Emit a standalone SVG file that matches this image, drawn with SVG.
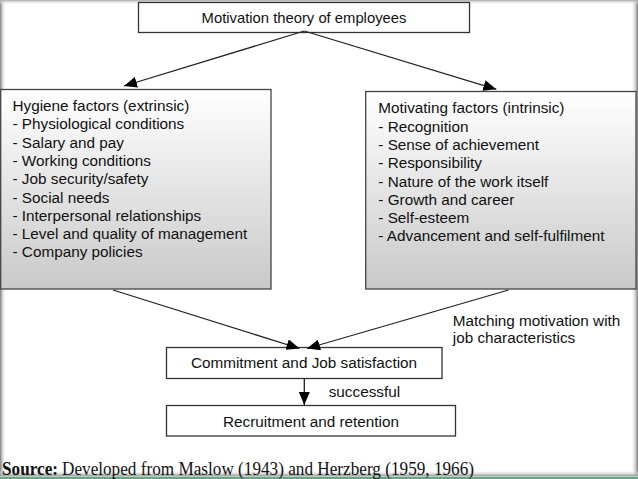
<svg xmlns="http://www.w3.org/2000/svg" width="638" height="479" viewBox="0 0 638 479">
<defs>
<linearGradient id="boxfill" x1="0" y1="0" x2="0" y2="1">
<stop offset="0" stop-color="#ffffff"/>
<stop offset="1" stop-color="#c9c9c9"/>
</linearGradient>
<linearGradient id="edgeL" x1="0" y1="0" x2="1" y2="0">
<stop offset="0" stop-color="#7a7a7a"/>
<stop offset="1" stop-color="#ffffff" stop-opacity="0"/>
</linearGradient>
<linearGradient id="edgeR" x1="1" y1="0" x2="0" y2="0">
<stop offset="0" stop-color="#7a7a7a"/>
<stop offset="1" stop-color="#ffffff" stop-opacity="0"/>
</linearGradient>
<linearGradient id="edgeT" x1="0" y1="0" x2="0" y2="1">
<stop offset="0" stop-color="#aaaaaa"/>
<stop offset="1" stop-color="#ffffff" stop-opacity="0"/>
</linearGradient>
<linearGradient id="edgeB" x1="0" y1="1" x2="0" y2="0">
<stop offset="0" stop-color="#9a9a9a"/>
<stop offset="1" stop-color="#ffffff" stop-opacity="0"/>
</linearGradient>
<marker id="arr" viewBox="0 0 13 11" refX="13" refY="5.5" markerWidth="13" markerHeight="11" markerUnits="userSpaceOnUse" orient="auto">
<path d="M0,0 L13,5.5 L0,11 z" fill="#000"/>
</marker>
<style>
.t{font-family:"Liberation Sans",Arial,sans-serif;font-size:15.3px;fill:#111}
.src{font-family:"Liberation Serif","Times New Roman",serif;font-size:19.5px;fill:#111}
.box{fill:#fff;stroke:#333;stroke-width:1.3}
.gbox{fill:url(#boxfill);stroke:#444;stroke-width:1.3}
.ln{stroke:#222;stroke-width:1.3;fill:none}
</style>
</defs>
<rect x="0" y="0" width="638" height="479" fill="#fff"/>
<rect x="0" y="0" width="6" height="476" fill="url(#edgeL)"/>
<rect x="631" y="0" width="7" height="476" fill="url(#edgeR)"/>
<rect x="0" y="0" width="638" height="5" fill="url(#edgeT)"/>
<rect x="0" y="470" width="638" height="6" fill="url(#edgeB)"/>
<rect x="0" y="476.5" width="638" height="2.5" fill="#6aa585"/>

<g id="top">
<rect class="box" x="138.5" y="2.5" width="331" height="30"/>
<text class="t" x="304" y="22.7" text-anchor="middle" style="font-size:14.8px">Motivation theory of employees</text>
</g>

<g id="hygiene">
<rect class="gbox" x="0.7" y="89.5" width="270.3" height="199.5"/>
<text class="t" x="12.5" y="111">Hygiene factors (extrinsic)</text>
<text class="t" x="12.5" y="129.3">- Physiological conditions</text>
<text class="t" x="12.5" y="147.6">- Salary and pay</text>
<text class="t" x="12.5" y="165.9">- Working conditions</text>
<text class="t" x="12.5" y="184.2">- Job security/safety</text>
<text class="t" x="12.5" y="202.5">- Social needs</text>
<text class="t" x="12.5" y="220.8">- Interpersonal relationships</text>
<text class="t" x="12.5" y="239.1">- Level and quality of management</text>
<text class="t" x="12.5" y="257.4">- Company policies</text>
</g>

<g id="motivating">
<rect class="gbox" x="365.7" y="91.5" width="270.3" height="197.5"/>
<text class="t" x="378.3" y="113.3">Motivating factors (intrinsic)</text>
<text class="t" x="378.3" y="131.6">- Recognition</text>
<text class="t" x="378.3" y="149.9">- Sense of achievement</text>
<text class="t" x="378.3" y="168.2">- Responsibility</text>
<text class="t" x="378.3" y="186.5">- Nature of the work itself</text>
<text class="t" x="378.3" y="204.8">- Growth and career</text>
<text class="t" x="378.3" y="223.1">- Self-esteem</text>
<text class="t" x="378.3" y="241.4">- Advancement and self-fulfilment</text>
</g>

<g id="commitment">
<rect class="box" x="166.5" y="347.5" width="275.5" height="31"/>
<text class="t" x="304" y="368.3" text-anchor="middle">Commitment and Job satisfaction</text>
</g>

<g id="recruitment">
<rect class="box" x="166.5" y="405.5" width="289" height="30.5"/>
<text class="t" x="311" y="426.7" text-anchor="middle">Recruitment and retention</text>
</g>

<g id="connectors">
<line class="ln" x1="304.3" y1="31" x2="124" y2="86" marker-end="url(#arr)"/>
<line class="ln" x1="304.3" y1="31" x2="496.3" y2="89.3" marker-end="url(#arr)"/>
<line class="ln" x1="113" y1="290" x2="299.5" y2="348.5" marker-end="url(#arr)"/>
<line class="ln" x1="508.5" y1="290" x2="307" y2="348.5" marker-end="url(#arr)"/>
<line class="ln" x1="304.3" y1="379" x2="304.3" y2="405" marker-end="url(#arr)"/>
<text class="t" x="328.7" y="396.7">successful</text>
<text class="t" x="452.8" y="325.7">Matching motivation with</text>
<text class="t" x="452.8" y="343.3">job characteristics</text>
</g>

<text class="src" x="2" y="474.5" font-weight="bold" textLength="56" lengthAdjust="spacingAndGlyphs">Source:</text>
<text class="src" x="62" y="474.5" textLength="412" lengthAdjust="spacingAndGlyphs">Developed from Maslow (1943) and Herzberg (1959, 1966)</text>
</svg>
